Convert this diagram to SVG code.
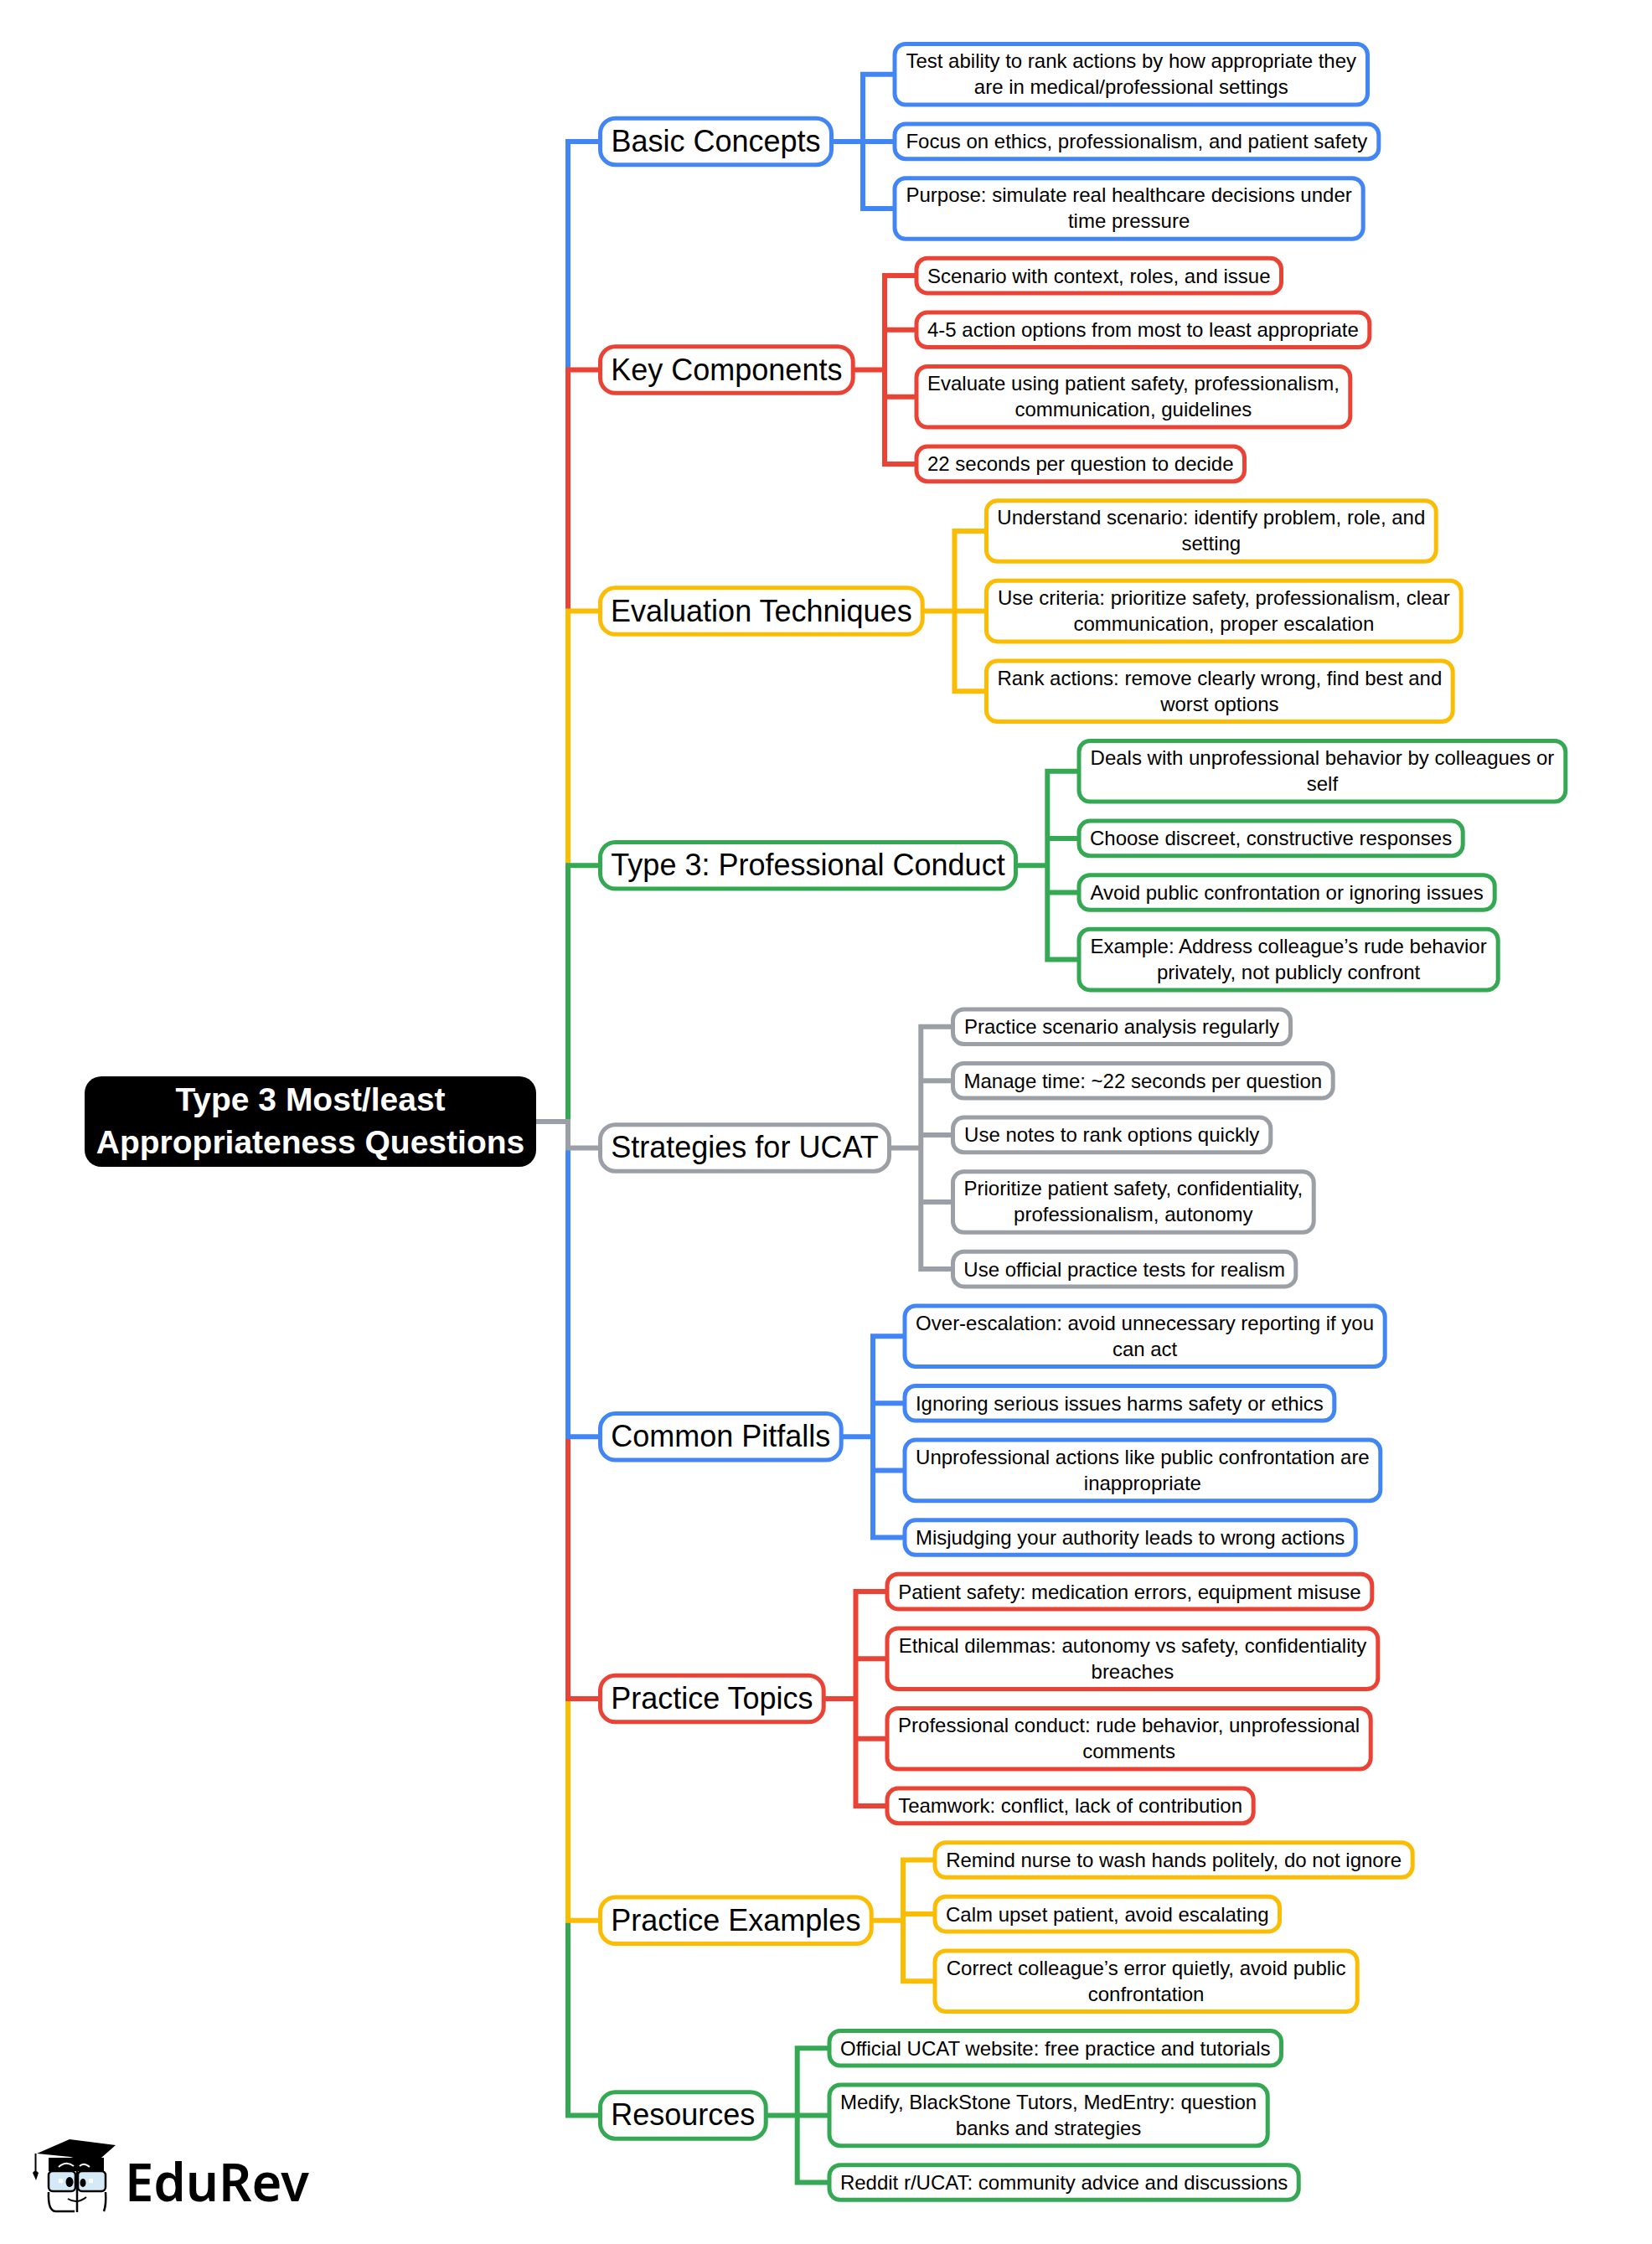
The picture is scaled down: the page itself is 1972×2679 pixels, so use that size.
<svg xmlns="http://www.w3.org/2000/svg" width="1972" height="2679" viewBox="0 0 1972 2679">
<style>
text{font-family:"Liberation Sans",Arial,sans-serif;fill:#000;text-anchor:middle}
.c text{font-size:24px}
.m text{font-size:36px}
.rt text{font-size:39px;font-weight:700;fill:#fff}
.c rect{fill:#fff;stroke-width:5}
.m rect{fill:#fff;stroke-width:5}
.rt rect{fill:#000}
.lk path{fill:none;stroke-width:6;stroke-linejoin:miter}
.b{stroke:#4285F4}.r{stroke:#EA4335}.y{stroke:#FBBC04}.g{stroke:#34A853}.a{stroke:#9AA0A6}
</style>
<rect width="1972" height="2679" fill="#fff"/>
<g id="connectors" class="lk">
<path class="b" d="M640 1339H678V168.900H716"/>
<path class="g" d="M640 1339H678V2525.400H716"/>
<path class="r" d="M640 1339H678V441.500H716"/>
<path class="y" d="M640 1339H678V2292.850H716"/>
<path class="y" d="M640 1339H678V729.600H716"/>
<path class="r" d="M640 1339H678V2028H716"/>
<path class="g" d="M640 1339H678V1033.200H716"/>
<path class="b" d="M640 1339H678V1715.350H716"/>
<path class="a" d="M640 1339H678V1370.400H716"/>
<path class="b" d="M992 168.900H1030V88.800H1068M992 168.900H1068M992 168.900H1030V249H1068"/>
<path class="r" d="M1018 441.500H1056V329.100H1094M1018 441.500H1056V393.700H1094M1018 441.500H1056V473.800H1094M1018 441.500H1056V553.900H1094"/>
<path class="y" d="M1101 729.600H1139.500V634H1177.500M1101 729.600H1177.500M1101 729.600H1139.500V825.200H1177.500"/>
<path class="g" d="M1212 1033.200H1250.300V920.800H1288M1212 1033.200H1250.300V1000.900H1288M1212 1033.200H1250.300V1065.500H1288M1212 1033.200H1250.300V1145.600H1288"/>
<path class="a" d="M1061 1370.400H1099.300V1225.700H1137.500M1061 1370.400H1099.300V1290.300H1137.500M1061 1370.400H1099.300V1354.900H1137.500M1061 1370.400H1099.300V1435H1137.500M1061 1370.400H1099.300V1515.100H1137.500"/>
<path class="b" d="M1004 1715.350H1042V1595.200H1080M1004 1715.350H1042V1675.300H1080M1004 1715.350H1042V1755.400H1080M1004 1715.350H1042V1835.500H1080"/>
<path class="r" d="M983 2028H1021.500V1900.100H1059M983 2028H1021.500V1980.200H1059M983 2028H1021.500V2075.800H1059M983 2028H1021.500V2155.900H1059"/>
<path class="y" d="M1040 2292.850H1078V2220.500H1116M1040 2292.850H1078V2285.100H1116M1040 2292.850H1078V2365.200H1116"/>
<path class="g" d="M914 2525.400H951.700V2445.300H990M914 2525.400H990M914 2525.400H951.700V2605.500H990"/>
</g>
<g id="root" class="rt"><rect x="101" y="1285" width="539" height="108" rx="20"/><text x="370.500" y="1326">Type 3 Most/least</text><text x="370.500" y="1377">Appropriateness Questions</text></g>

<g id="m1" class="m"><rect class="b" x="716.500" y="141.150" width="276" height="55.500" rx="18"/><text x="854.500" y="181">Basic Concepts</text></g>
<g id="m2" class="m"><rect class="r" x="716.500" y="413.750" width="301.700" height="55.500" rx="18"/><text x="867.350" y="453.500">Key Components</text></g>
<g id="m3" class="m"><rect class="y" x="716.500" y="701.850" width="384.700" height="55.500" rx="18"/><text x="908.850" y="741.600">Evaluation Techniques</text></g>
<g id="m4" class="m"><rect class="g" x="716.500" y="1005.450" width="496" height="55.500" rx="18"/><text x="964.500" y="1045.200">Type 3: Professional Conduct</text></g>
<g id="m5" class="m"><rect class="a" x="716.500" y="1342.650" width="345" height="55.500" rx="18"/><text x="889" y="1382.400">Strategies for UCAT</text></g>
<g id="m6" class="m"><rect class="b" x="716.500" y="1687.600" width="287.700" height="55.500" rx="18"/><text x="860.350" y="1727.350">Common Pitfalls</text></g>
<g id="m7" class="m"><rect class="r" x="716.500" y="2000.250" width="266.700" height="55.500" rx="18"/><text x="849.850" y="2040">Practice Topics</text></g>
<g id="m8" class="m"><rect class="y" x="716.500" y="2265.100" width="323.700" height="55.500" rx="18"/><text x="878.350" y="2304.850">Practice Examples</text></g>
<g id="m9" class="m"><rect class="g" x="716.500" y="2497.650" width="197.700" height="55.500" rx="18"/><text x="815.350" y="2537.400">Resources</text></g>

<g id="c1" class="c"><rect class="b" x="1068" y="52.500" width="564.500" height="72.600" rx="13"/><text x="1350.250" y="81.200">Test ability to rank actions by how appropriate they</text><text x="1350.250" y="112.200">are in medical/professional settings</text></g>
<g id="c2" class="c"><rect class="b" x="1068" y="148.100" width="577.800" height="41.600" rx="13"/><text x="1356.900" y="177.400">Focus on ethics, professionalism, and patient safety</text></g>
<g id="c3" class="c"><rect class="b" x="1068" y="212.700" width="559.200" height="72.600" rx="13"/><text x="1347.600" y="241.400">Purpose: simulate real healthcare decisions under</text><text x="1347.600" y="272.400">time pressure</text></g>

<g id="c4" class="c"><rect class="r" x="1094" y="308.300" width="435.500" height="41.600" rx="13"/><text x="1311.750" y="337.600">Scenario with context, roles, and issue</text></g>
<g id="c5" class="c"><rect class="r" x="1094" y="372.900" width="540.800" height="41.600" rx="13"/><text x="1364.400" y="402.200">4-5 action options from most to least appropriate</text></g>
<g id="c6" class="c"><rect class="r" x="1094" y="437.500" width="517.800" height="72.600" rx="13"/><text x="1352.900" y="466.200">Evaluate using patient safety, professionalism,</text><text x="1352.900" y="497.200">communication, guidelines</text></g>
<g id="c7" class="c"><rect class="r" x="1094" y="533.100" width="391.500" height="41.600" rx="13"/><text x="1289.750" y="562.400">22 seconds per question to decide</text></g>

<g id="c8" class="c"><rect class="y" x="1177.500" y="597.700" width="536.700" height="72.600" rx="13"/><text x="1445.850" y="626.400">Understand scenario: identify problem, role, and</text><text x="1445.850" y="657.400">setting</text></g>
<g id="c9" class="c"><rect class="y" x="1177.500" y="693.300" width="566.700" height="72.600" rx="13"/><text x="1460.850" y="722">Use criteria: prioritize safety, professionalism, clear</text><text x="1460.850" y="753">communication, proper escalation</text></g>
<g id="c10" class="c"><rect class="y" x="1177.500" y="788.900" width="556.700" height="72.600" rx="13"/><text x="1455.850" y="817.600">Rank actions: remove clearly wrong, find best and</text><text x="1455.850" y="848.600">worst options</text></g>

<g id="c11" class="c"><rect class="g" x="1288" y="884.500" width="580.800" height="72.600" rx="13"/><text x="1578.400" y="913.200">Deals with unprofessional behavior by colleagues or</text><text x="1578.400" y="944.200">self</text></g>
<g id="c12" class="c"><rect class="g" x="1288" y="980.100" width="458.200" height="41.600" rx="13"/><text x="1517.100" y="1009.400">Choose discreet, constructive responses</text></g>
<g id="c13" class="c"><rect class="g" x="1288" y="1044.700" width="496.200" height="41.600" rx="13"/><text x="1536.100" y="1074">Avoid public confrontation or ignoring issues</text></g>
<g id="c14" class="c"><rect class="g" x="1288" y="1109.300" width="500.200" height="72.600" rx="13"/><text x="1538.100" y="1138">Example: Address colleague’s rude behavior</text><text x="1538.100" y="1169">privately, not publicly confront</text></g>

<g id="c15" class="c"><rect class="a" x="1137.500" y="1204.900" width="403" height="41.600" rx="13"/><text x="1339" y="1234.200">Practice scenario analysis regularly</text></g>
<g id="c16" class="c"><rect class="a" x="1137.500" y="1269.500" width="453.700" height="41.600" rx="13"/><text x="1364.350" y="1298.800">Manage time: ~22 seconds per question</text></g>
<g id="c17" class="c"><rect class="a" x="1137.500" y="1334.100" width="379.300" height="41.600" rx="13"/><text x="1327.150" y="1363.400">Use notes to rank options quickly</text></g>
<g id="c18" class="c"><rect class="a" x="1137.500" y="1398.700" width="430.700" height="72.600" rx="13"/><text x="1352.850" y="1427.400">Prioritize patient safety, confidentiality,</text><text x="1352.850" y="1458.400">professionalism, autonomy</text></g>
<g id="c19" class="c"><rect class="a" x="1137.500" y="1494.300" width="409.300" height="41.600" rx="13"/><text x="1342.150" y="1523.600">Use official practice tests for realism</text></g>

<g id="c20" class="c"><rect class="b" x="1080" y="1558.900" width="573.200" height="72.600" rx="13"/><text x="1366.600" y="1587.600">Over-escalation: avoid unnecessary reporting if you</text><text x="1366.600" y="1618.600">can act</text></g>
<g id="c21" class="c"><rect class="b" x="1080" y="1654.500" width="512.800" height="41.600" rx="13"/><text x="1336.400" y="1683.800">Ignoring serious issues harms safety or ethics</text></g>
<g id="c22" class="c"><rect class="b" x="1080" y="1719.100" width="567.800" height="72.600" rx="13"/><text x="1363.900" y="1747.800">Unprofessional actions like public confrontation are</text><text x="1363.900" y="1778.800">inappropriate</text></g>
<g id="c23" class="c"><rect class="b" x="1080" y="1814.700" width="538.200" height="41.600" rx="13"/><text x="1349.100" y="1844">Misjudging your authority leads to wrong actions</text></g>

<g id="c24" class="c"><rect class="r" x="1059" y="1879.300" width="578.800" height="41.600" rx="13"/><text x="1348.400" y="1908.600">Patient safety: medication errors, equipment misuse</text></g>
<g id="c25" class="c"><rect class="r" x="1059" y="1943.900" width="585.800" height="72.600" rx="13"/><text x="1351.900" y="1972.600">Ethical dilemmas: autonomy vs safety, confidentiality</text><text x="1351.900" y="2003.600">breaches</text></g>
<g id="c26" class="c"><rect class="r" x="1059" y="2039.500" width="577.200" height="72.600" rx="13"/><text x="1347.600" y="2068.200">Professional conduct: rude behavior, unprofessional</text><text x="1347.600" y="2099.200">comments</text></g>
<g id="c27" class="c"><rect class="r" x="1059" y="2135.100" width="437.200" height="41.600" rx="13"/><text x="1277.600" y="2164.400">Teamwork: conflict, lack of contribution</text></g>

<g id="c28" class="c"><rect class="y" x="1116" y="2199.700" width="570.200" height="41.600" rx="13"/><text x="1401.100" y="2229">Remind nurse to wash hands politely, do not ignore</text></g>
<g id="c29" class="c"><rect class="y" x="1116" y="2264.300" width="411.500" height="41.600" rx="13"/><text x="1321.750" y="2293.600">Calm upset patient, avoid escalating</text></g>
<g id="c30" class="c"><rect class="y" x="1116" y="2328.900" width="504.200" height="72.600" rx="13"/><text x="1368.100" y="2357.600">Correct colleague’s error quietly, avoid public</text><text x="1368.100" y="2388.600">confrontation</text></g>

<g id="c31" class="c"><rect class="g" x="990" y="2424.500" width="539.500" height="41.600" rx="13"/><text x="1259.750" y="2453.800">Official UCAT website: free practice and tutorials</text></g>
<g id="c32" class="c"><rect class="g" x="990" y="2489.100" width="523.200" height="72.600" rx="13"/><text x="1251.600" y="2517.800">Medify, BlackStone Tutors, MedEntry: question</text><text x="1251.600" y="2548.800">banks and strategies</text></g>
<g id="c33" class="c"><rect class="g" x="990" y="2584.700" width="560.200" height="41.600" rx="13"/><text x="1270.100" y="2614">Reddit r/UCAT: community advice and discussions</text></g>

<g id="logo">
<path d="M58 2576H124V2592H58Z" fill="#000"/>
<path d="M44 2571L83 2554L138 2561L113 2583L84 2575Z" fill="#000"/>
<path d="M42.500 2571V2592" stroke="#000" stroke-width="2" fill="none"/>
<path d="M39 2594Q42 2589 46 2594L43 2603Z" fill="#000"/>
<path d="M70 2587Q79 2579 88 2586M95 2586Q100 2581 107 2587" stroke="#fff" stroke-width="2" fill="none"/>
<rect x="58" y="2592" width="32" height="24" rx="5" fill="#d5eaf7" stroke="#000" stroke-width="2.500"/>
<rect x="93" y="2592" width="33" height="24" rx="5" fill="#d5eaf7" stroke="#000" stroke-width="2.500"/>
<path d="M58 2617Q57 2639 66 2640H89M92 2590V2641M126 2617Q127 2632 124 2640" stroke="#000" stroke-width="2.500" fill="none"/>
<path d="M70 2601h5v5h-5ZM106 2601h5v5h-5Z" fill="#fff"/>
<ellipse cx="83" cy="2605" rx="4.500" ry="6" fill="#000"/>
<ellipse cx="99" cy="2606" rx="3.500" ry="5" fill="#000"/>
<path d="M81 2625Q92 2632 103 2623" stroke="#000" stroke-width="2" fill="none"/>
<text x="149" y="2628" textLength="220" lengthAdjust="spacingAndGlyphs" style="text-anchor:start;font-family:'Noto Sans',sans-serif;font-weight:600;font-size:64px">EduRev</text>
</g>
</svg>
